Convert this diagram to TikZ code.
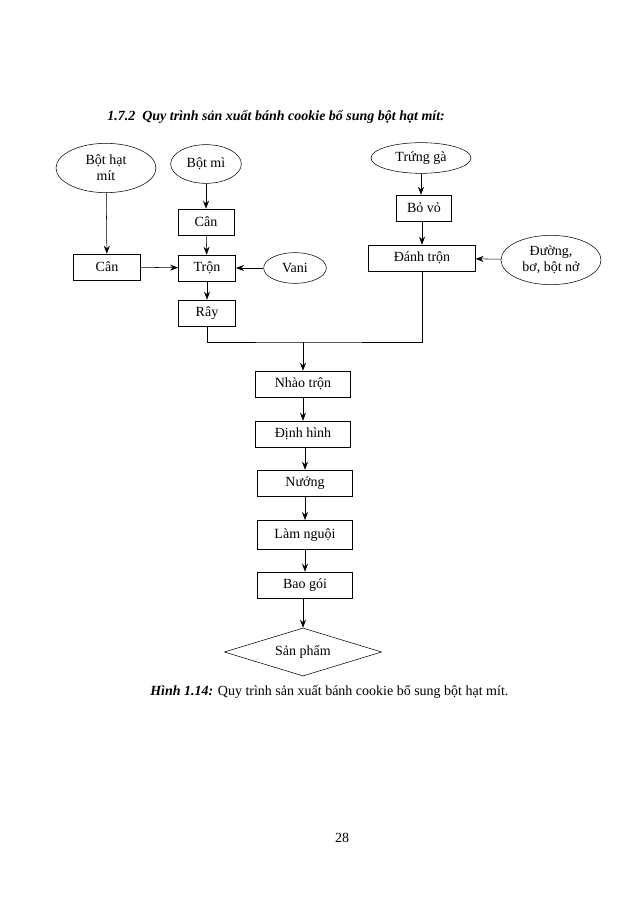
\documentclass[tikz,border=0pt]{standalone}
\usepackage{fontspec}
\setmainfont{Liberation Serif}
\usetikzlibrary{shapes.geometric,arrows.meta}
\begin{document}
\begin{tikzpicture}[x=0.75pt,y=-0.75pt,font=\fontsize{10.5}{12}\selectfont,
  box/.style={draw,minimum height=19.5pt,inner sep=1pt},
  oval/.style={draw,ellipse,inner sep=0pt,align=center},
  arr/.style={-{Stealth[length=6pt,width=4.5pt]}}]
\useasboundingbox (0,0) rectangle (638,902);
\node[font=\fontsize{10.5}{12}\selectfont\bfseries\itshape,anchor=west,inner sep=0pt] (title) at (107,117) {1.7.2\ \ Quy trình sản xuất bánh cookie bổ sung bột hạt mít:};

\node[oval,minimum width=75pt,minimum height=37pt] (bothat) at (106,168) {Bột hạt\\mít};
\node[oval,minimum width=53pt,minimum height=29pt] (botmi) at (206,164) {Bột mì};
\node[oval,minimum width=75pt,minimum height=23pt] (trung) at (421,158) {Trứng gà};
\node[box,minimum width=41pt] (bovo) at (424,208) {Bỏ vỏ};
\node[box,minimum width=42pt] (can1) at (206,222) {Cân};
\node[box,minimum width=80pt] (danh) at (422,258) {Đánh trộn};
\node[oval,minimum width=75pt,minimum height=37pt] (duong) at (551,260) {Đường,\\bơ, bột nở};
\node[box,minimum width=50pt] (can2) at (107,267) {Cân};
\node[box,minimum width=43pt] (tron) at (207,268) {Trộn};
\node[oval,minimum width=47pt,minimum height=23pt] (vani) at (295,268) {Vani};
\node[box,minimum width=43pt] (ray) at (207,313) {Rây};
\coordinate (jn) at (303,342);
\node[box,minimum width=71pt] (nhao) at (303,384) {Nhào trộn};
\node[box,minimum width=71pt] (dinh) at (303,434) {Định hình};
\node[box,minimum width=71pt] (nuong) at (305,483) {Nướng};
\node[box,minimum width=71pt,minimum height=22pt] (lam) at (305,535) {Làm nguội};
\node[box,minimum width=71pt] (bao) at (305,585) {Bao gói};
\node[draw,diamond,aspect=3.3,minimum width=118pt,minimum height=36pt,inner sep=0pt] (sp) at (303,652) {Sản phẩm};

\node[anchor=west,inner sep=0pt] (cap) at (150,692) {\textbf{\textit{Hình 1.14:}} Quy trình sản xuất bánh cookie bổ sung bột hạt mít.};
\node (page) at (342,838) {28};

\draw[arr] (bothat) -- (can2);
\draw[arr] (can2) -- (tron);
\draw[arr] (vani) -- (tron);
\draw[arr] (botmi) -- (can1);
\draw[arr] (can1) -- (tron);
\draw[arr] (tron) -- (ray);
\draw[arr] (trung) -- (trung |- bovo.north);
\draw[arr] (bovo.south -| danh) -- (danh);
\draw[arr] (duong) -- (danh);
\draw (ray) |- (jn) -| (danh);
\draw[arr] (jn) -- (nhao);
\draw[arr] (nhao) -- (dinh);
\draw[arr] (dinh.south -| nuong) -- (nuong);
\draw[arr] (nuong) -- (lam);
\draw[arr] (lam) -- (bao);
\draw[arr] (bao.south -| sp) -- (sp);
\end{tikzpicture}
\end{document}
